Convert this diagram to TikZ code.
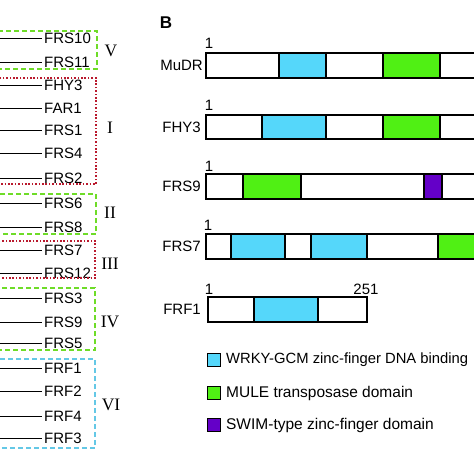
\documentclass[tikz,border=0pt]{standalone}
\usepackage{fontspec}
\setmainfont{Liberation Sans}
\newfontfamily\romanfont{Liberation Serif}
\usetikzlibrary{positioning}

\definecolor{wrkycyan}{RGB}{85,215,250}
\definecolor{mulegreen}{RGB}{80,240,20}
\definecolor{swimpurple}{RGB}{100,0,200}
\definecolor{boxgreen}{RGB}{110,220,40}
\definecolor{boxred}{RGB}{185,25,45}
\definecolor{boxcyan}{RGB}{100,200,230}

\begin{document}
\begin{tikzpicture}[x=1pt, y=-1pt,
        gene/.style={anchor=west, font=\fontsize{15}{15}\selectfont, inner sep=2pt},
        leaf/.style={draw, line width=0.9pt},
        clade/.style={font=\romanfont\fontsize{17.5}{17.5}\selectfont},
        greenbox/.style={draw=boxgreen, line width=1.5pt, dash pattern=on 5pt off 3pt},
        redbox/.style={draw=boxred, line width=1.6pt, dash pattern=on 1.6pt off 1.8pt},
        cyanbox/.style={draw=boxcyan, line width=1.5pt, dash pattern=on 5pt off 3pt},
        bar/.style={draw, line width=1.2pt, fill=white},
        dom/.style={draw, line width=1.2pt},
        prot/.style={anchor=east, font=\fontsize{15}{15}\selectfont, inner sep=2pt},
        resnum/.style={font=\fontsize{15}{15}\selectfont, inner sep=0pt},
        key/.style={draw, line width=0.9pt, minimum size=13pt, inner sep=0pt},
        keytext/.style={anchor=west, font=\fontsize{15.5}{15.5}\selectfont, inner sep=0pt}
    ]
        \clip (0,0) rectangle (474,474);

        % A: clades
        \foreach \name/\y in {FRS10/38, FRS11/62, FHY3/85, FAR1/108, FRS1/130,
                FRS4/153, FRS2/178, FRS6/203, FRS8/227, FRS7/250, FRS12/273,
                FRS3/298, FRS9/322, FRS5/343, FRF1/368, FRF2/391, FRF4/416, FRF3/438} {
            \node[gene] (a\name) at (42,\y) {\name};
            \coordinate (t\name) at (-10,\y);
            \draw[leaf] (t\name) -- (a\name.west);
        }

        \draw[greenbox] (-5,31) rectangle (97,69);
        \draw[redbox] (-5,78) rectangle (96,184);
        \draw[greenbox] (-5,194) rectangle (96,234);
        \draw[redbox] (-5,241) rectangle (95,278);
        \draw[greenbox] (-5,288) rectangle (95,350);
        \draw[cyanbox] (-5,359) rectangle (95,448);

        \node[clade] (cV) at (111,51) {V};
        \node[clade] (cI) at (110,128) {I};
        \node[clade] (cII) at (110,213) {II};
        \node[clade] (cIII) at (110,264) {III};
        \node[clade] (cIV) at (110,322) {IV};
        \node[clade] (cVI) at (111,405) {VI};

        % B: domains
        \node[font=\bfseries\fontsize{17}{17}\selectfont, inner sep=0pt] (lblB) at (166,23) {B};

        % MuDR
        \draw[bar] (206,53) rectangle (490,78);
        \draw[dom, fill=wrkycyan] (279,53) rectangle (326,78);
        \draw[dom, fill=mulegreen] (383,53) rectangle (440,78);
        \node[prot] (pMuDR) at (205,65) {MuDR};
        \node[resnum] (sMuDR) at (209,43) {1};

        % FHY3
        \draw[bar] (206,115) rectangle (490,139);
        \draw[dom, fill=wrkycyan] (262,115) rectangle (326,139);
        \draw[dom, fill=mulegreen] (383,115) rectangle (440,139);
        \node[prot] (pFHY3) at (203,127) {FHY3};
        \node[resnum] (sFHY3) at (209,105) {1};

        % FRS9
        \draw[bar] (206,174) rectangle (490,199);
        \draw[dom, fill=mulegreen] (243,174) rectangle (301,199);
        \draw[dom, fill=swimpurple] (424,174) rectangle (442,199);
        \node[prot] (pFRS9) at (203,186) {FRS9};
        \node[resnum] (sFRS9) at (209,166) {1};

        % FRS7
        \draw[bar] (206,234) rectangle (490,259);
        \draw[dom, fill=wrkycyan] (231,234) rectangle (285,259);
        \draw[dom, fill=wrkycyan] (311,234) rectangle (367,259);
        \draw[dom, fill=mulegreen] (438,234) rectangle (490,259);
        \node[prot] (pFRS7) at (203,246) {FRS7};
        \node[resnum] (sFRS7) at (208,225) {1};

        % FRF1
        \draw[bar] (208,297) rectangle (367,322);
        \draw[dom, fill=wrkycyan] (254,297) rectangle (318,322);
        \node[prot] (pFRF1) at (203,309) {FRF1};
        \node[resnum] (sFRF1) at (209,289) {1};
        \node[resnum] (eFRF1) at (366,289) {251};

        % legend
        \node[key, fill=wrkycyan] (kW) at (214,360) {};
        \node[keytext, font=\fontsize{14.8}{14.8}\selectfont, right=5pt of kW] (tW) {WRKY-GCM zinc-finger DNA binding};
        \node[key, fill=mulegreen] (kM) at (214,393) {};
        \node[keytext, right=5pt of kM] (tM) {MULE transposase domain};
        \node[key, fill=swimpurple] (kS) at (214,425) {};
        \node[keytext, right=5pt of kS] (tS) {SWIM-type zinc-finger domain};
\end{tikzpicture}
\end{document}
